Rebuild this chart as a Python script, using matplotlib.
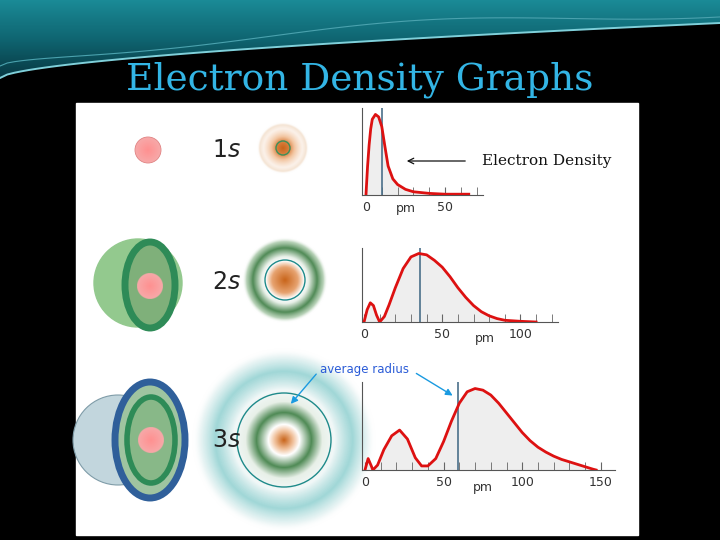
import numpy as np
import matplotlib
matplotlib.use("Agg")
import matplotlib.pyplot as plt
from matplotlib.patches import Circle, Ellipse, Polygon, Rectangle
from matplotlib.ticker import MultipleLocator, FixedLocator

# radial probability curves (pm, relative density)
r_1s = [0, 1, 2, 3, 4, 6, 8, 10, 12, 14, 17, 20, 25, 30, 40, 50, 65]
d_1s = [0, 0.35, 0.62, 0.82, 0.94, 1.0, 0.97, 0.85, 0.6, 0.36, 0.2, 0.13, 0.07, 0.04, 0.02, 0.01, 0.01]
avg_1s = 10

r_2s = [0, 2, 4, 6, 8, 10, 13, 16, 20, 25, 30, 35, 40, 45, 50, 55, 60, 65, 70, 75, 80, 85, 90, 100, 110]
d_2s = [0, 0.18, 0.28, 0.24, 0.1, 0.0, 0.08, 0.25, 0.5, 0.78, 0.95, 1.0, 0.98, 0.9, 0.8, 0.66, 0.5,
        0.36, 0.24, 0.15, 0.09, 0.05, 0.025, 0.01, 0.0]
avg_2s = 36

r_3s = [0, 2, 4, 5, 8, 12, 17, 22, 27, 32, 36, 40, 45, 50, 55, 60, 65, 70, 75, 80, 85, 90, 95, 100,
        105, 110, 115, 120, 125, 130, 135, 140, 145, 147]
d_3s = [0, 0.14, 0.05, 0.0, 0.06, 0.25, 0.42, 0.49, 0.38, 0.15, 0.05, 0.05, 0.14, 0.35, 0.6, 0.82,
        0.96, 1.0, 0.98, 0.92, 0.82, 0.7, 0.58, 0.46, 0.36, 0.28, 0.22, 0.17, 0.13, 0.1, 0.07, 0.04, 0.01, 0]
avg_3s = 59

W, H = 720, 540
fig = plt.figure(figsize=(7.2, 5.4), dpi=100, facecolor="black")
bg = fig.add_axes([0, 0, 1, 1])
bg.set_xlim(0, W)
bg.set_ylim(H, 0)
bg.axis("off")
bg.add_patch(Rectangle((0, 0), W, H, color="black", zorder=0))

# top banner
xs = np.linspace(0, W, 100)
edge = 78 - 55 * (xs / W) ** 0.6
grad = np.linspace(0, 1, 80)[:, None] * np.ones((1, 10))
cmap = matplotlib.colors.LinearSegmentedColormap.from_list("b", ["#1a8a96", "#0f6470", "#073640"])
im = bg.imshow(grad, extent=(0, W, 80, 0), cmap=cmap, aspect="auto", zorder=1)
poly = Polygon(np.column_stack([np.r_[xs, W, 0], np.r_[edge, 0, 0]]), transform=bg.transData)
im.set_clip_path(poly)
bg.plot(xs, edge, color="#7fd0da", lw=1.4, zorder=2)
bg.plot(xs, edge - 12 + 6 * np.sin(xs / 90), color="#4aa2ae", lw=0.8, zorder=2)

bg.text(360, 80, "Electron Density Graphs", color="#33b5e5", fontsize=27,
        family="DejaVu Serif", ha="center", va="center", zorder=3)

# white panel
bg.add_patch(Rectangle((76, 103), 562, 432, color="white", zorder=2))


def radial(cx, cy, R, stops, z=4):
    n = 201
    yy, xx = np.mgrid[-1:1:n * 1j, -1:1:n * 1j]
    rr = np.hypot(xx, yy)
    pos = [s[0] for s in stops]
    cols = np.array([matplotlib.colors.to_rgba(s[1], s[2]) for s in stops])
    img = np.zeros((n, n, 4))
    for k in range(4):
        img[..., k] = np.interp(rr, pos, cols[:, k])
    img[rr > 1, 3] = 0
    bg.imshow(img, extent=(cx - R, cx + R, cy + R, cy - R), zorder=z, interpolation="bilinear")


pink = [(0, "#ff9090", 1), (1, "#f7a9a9", 1)]

# 1s
radial(148, 150, 13, pink)
bg.add_patch(Circle((148, 150), 13, fill=False, ec="#e08080", lw=0.6, zorder=5))
radial(283, 148, 26, [(0, "#c8641a", 1), (0.25, "#d98040", 1), (0.45, "#f0b88a", 0.8),
                      (0.75, "#f8e4d4", 0.5), (0.9, "#f0d8c0", 0.7), (1, "#ffffff", 0)])
bg.add_patch(Circle((283, 148), 7, fill=False, ec="#3a8f5a", lw=1, zorder=5))

# 2s
bg.add_patch(Circle((138, 283), 44, color="#93c98e", zorder=4))
bg.add_patch(Ellipse((150, 285), 50, 86, fc="#7fb07a", ec="#2e8b57", lw=5, zorder=5))
radial(150, 286, 13, pink, z=6)
radial(285, 280, 43, [(0, "#c8641a", 1), (0.3, "#e7a370", 1), (0.45, "#ffffff", 1),
                      (0.55, "#e8f0e8", 1), (0.75, "#4f8a55", 1), (0.9, "#a8c8a8", 0.8),
                      (1, "#ffffff", 0)])
bg.add_patch(Circle((285, 280), 20, fill=False, ec="#1f8a8a", lw=1, zorder=5))

# 3s
bg.add_patch(Circle((118, 440), 45, fc="#c2d6dd", ec="#7f9ca8", lw=0.8, zorder=4))
bg.add_patch(Ellipse((150, 440), 70, 116, fc="#9fc4a0", ec="#2f5f9a", lw=5, zorder=5))
bg.add_patch(Ellipse((151, 440), 48, 86, fc="#88b888", ec="#2e8b57", lw=4, zorder=6))
radial(151, 440, 13, pink, z=7)
radial(284, 440, 92, [(0, "#c8641a", 1), (0.1, "#f0c09a", 1), (0.17, "#ffffff", 1),
                      (0.3, "#4f8a55", 1), (0.42, "#e8f0e8", 1), (0.55, "#f2f8f8", 1),
                      (0.75, "#8fd0d0", 0.85), (0.92, "#e4f2f2", 0.7), (1, "#ffffff", 0)])
bg.add_patch(Circle((284, 440), 47, fill=False, ec="#1f8a8a", lw=1, zorder=5))

for y, n in [(150, "1"), (282, "2"), (440, "3")]:
    bg.text(212, y, n + r"$\mathit{s}$", fontsize=17, ha="left", va="center",
            color="#222222", zorder=8)

# annotations
bg.text(365, 370, "average radius", color="#2a5bd7", fontsize=8.5, ha="center", va="center", zorder=8)
bg.annotate("", xy=(289, 406), xytext=(318, 372), zorder=8,
            arrowprops=dict(arrowstyle="-|>", color="#1a9ae0", lw=1))
bg.annotate("", xy=(455, 397), xytext=(414, 372), zorder=8,
            arrowprops=dict(arrowstyle="-|>", color="#1a9ae0", lw=1))
bg.text(482, 161, "Electron Density", fontsize=11, family="DejaVu Serif",
        ha="left", va="center", color="#111111", zorder=8)
bg.annotate("", xy=(404, 161), xytext=(468, 161), zorder=8,
            arrowprops=dict(arrowstyle="->", color="#111111", lw=0.9))


def graph(px0, px1, py0, py1, xlim, r, d, avg, labels, pm_at, pm_y):
    ax = fig.add_axes([px0 / W, 1 - py1 / H, (px1 - px0) / W, (py1 - py0) / H])
    ax.patch.set_alpha(0)
    ax.set_xlim(*xlim)
    ax.set_ylim(0, 1.08)
    ax.fill_between(r, d, color="#eeeeee", zorder=1)
    ax.plot(r, d, color="#dd1111", lw=2, zorder=3)
    ax.axvline(avg, color="#4a6f8a", lw=1.2, zorder=2)
    for s in ["top", "right"]:
        ax.spines[s].set_visible(False)
    for s in ["left", "bottom"]:
        ax.spines[s].set_color("#555555")
    ax.set_yticks([])
    ax.xaxis.set_major_locator(FixedLocator(labels))
    ax.xaxis.set_minor_locator(MultipleLocator(10))
    ax.tick_params(axis="x", which="both", direction="in", length=6, color="#666666",
                   labelsize=9, labelcolor="#333333", pad=4)
    ax.text(pm_at, pm_y, "pm", transform=ax.get_xaxis_transform(), fontsize=9,
            color="#333333", ha="center", va="center")
    return ax


graph(362, 483, 108, 195, (-2.5, 74), r_1s, d_1s, avg_1s, [0, 50], 25, -0.16)
graph(362, 558, 248, 322, (-1.3, 124), r_2s, d_2s, avg_2s, [0, 50, 100], 77, -0.22)
graph(362, 615, 382, 470, (-1.9, 159), r_3s, d_3s, avg_3s, [0, 50, 100, 150], 75, -0.2)

fig.savefig("out.png", dpi=100, facecolor="black")
